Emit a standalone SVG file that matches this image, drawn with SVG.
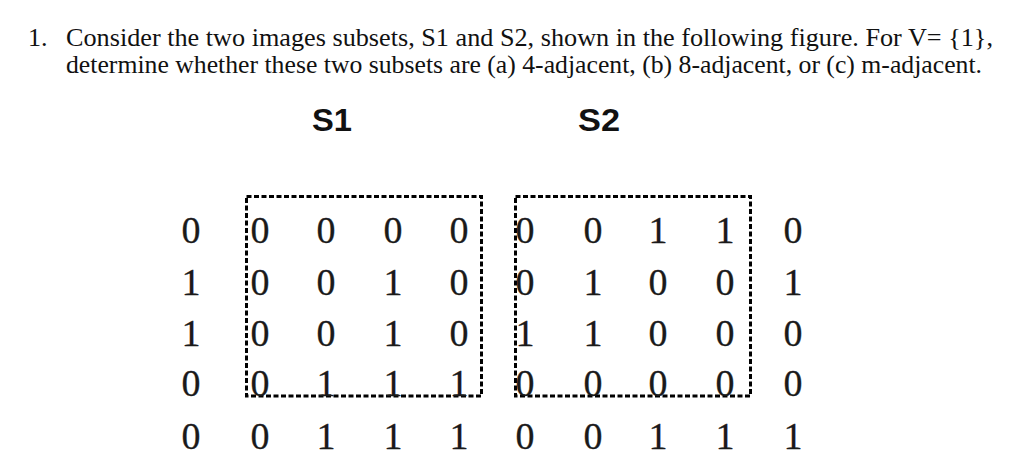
<svg xmlns="http://www.w3.org/2000/svg" width="1020" height="470" viewBox="0 0 1020 470">
<style>
.q{font-family:"Liberation Serif","Times New Roman",serif;font-size:26px;fill:#111}
.lbl{font-family:"Liberation Sans",Arial,sans-serif;font-size:31px;font-weight:bold;fill:#111;text-anchor:middle}
.d{font-family:"Liberation Serif","Times New Roman",serif;font-size:38px;fill:#1a1a1a;text-anchor:middle;stroke:#1a1a1a;stroke-width:0.3}
.box{fill:none;stroke:#000;stroke-width:3;stroke-dasharray:5 2.5}
</style>
<rect width="1020" height="470" fill="#fff"/>
<g id="question">
<text class="q" x="28" y="46">1.</text>
<text class="q" x="66" y="46" textLength="927" lengthAdjust="spacingAndGlyphs">Consider the two images subsets, S1 and S2, shown in the following figure. For V= {1},</text>
<text class="q" x="66" y="73" textLength="916" lengthAdjust="spacingAndGlyphs">determine whether these two subsets are (a) 4-adjacent, (b) 8-adjacent, or (c) m-adjacent.</text>
</g>
<g id="labels">
<text class="lbl" x="332" y="131" textLength="40" lengthAdjust="spacingAndGlyphs">S1</text>
<text class="lbl" x="599" y="131" textLength="42" lengthAdjust="spacingAndGlyphs">S2</text>
</g>
<g id="boxes">
<rect id="S1" class="box" x="246.5" y="196.5" width="235" height="199.5"/>
<rect id="S2" class="box" x="515.5" y="196.5" width="235" height="199.5"/>
</g>
<g id="grid">
<text class="d" y="243"><tspan x="191">0</tspan><tspan x="260">0</tspan><tspan x="326">0</tspan><tspan x="393">0</tspan><tspan x="459">0</tspan><tspan x="525">0</tspan><tspan x="593">0</tspan><tspan x="658">1</tspan><tspan x="725">1</tspan><tspan x="793">0</tspan></text>
<text class="d" y="295"><tspan x="191">1</tspan><tspan x="260">0</tspan><tspan x="326">0</tspan><tspan x="393">1</tspan><tspan x="459">0</tspan><tspan x="525">0</tspan><tspan x="593">1</tspan><tspan x="658">0</tspan><tspan x="725">0</tspan><tspan x="793">1</tspan></text>
<text class="d" y="346"><tspan x="191">1</tspan><tspan x="260">0</tspan><tspan x="326">0</tspan><tspan x="393">1</tspan><tspan x="459">0</tspan><tspan x="525">1</tspan><tspan x="593">1</tspan><tspan x="658">0</tspan><tspan x="725">0</tspan><tspan x="793">0</tspan></text>
<text class="d" y="396"><tspan x="191">0</tspan><tspan x="260">0</tspan><tspan x="326">1</tspan><tspan x="393">1</tspan><tspan x="459">1</tspan><tspan x="525">0</tspan><tspan x="593">0</tspan><tspan x="658">0</tspan><tspan x="725">0</tspan><tspan x="793">0</tspan></text>
<text class="d" y="449"><tspan x="191">0</tspan><tspan x="260">0</tspan><tspan x="326">1</tspan><tspan x="393">1</tspan><tspan x="459">1</tspan><tspan x="525">0</tspan><tspan x="593">0</tspan><tspan x="658">1</tspan><tspan x="725">1</tspan><tspan x="793">1</tspan></text>
</g>
</svg>
